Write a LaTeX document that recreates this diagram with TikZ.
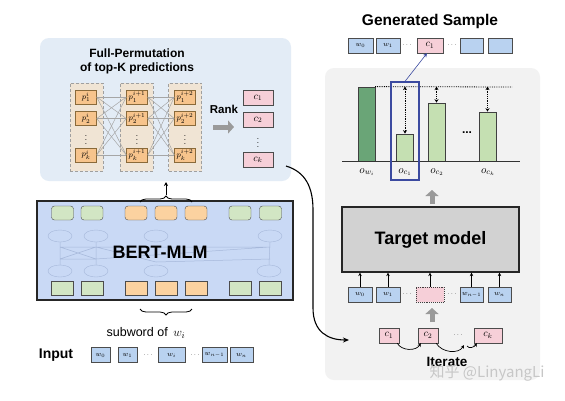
\documentclass[tikz,border=0pt]{standalone}
\usepackage{fontspec}
\setmainfont{Liberation Sans}
\newfontfamily\cjkfont{Noto Sans CJK SC}
\usetikzlibrary{arrows.meta,decorations.pathreplacing,shapes.geometric}
\definecolor{panelblue}{HTML}{E3ECF6}
\definecolor{colbg}{HTML}{F0E4D4}
\definecolor{porange}{HTML}{F7C48C}
\definecolor{pborder}{HTML}{8A6A3A}
\definecolor{cpink}{HTML}{F6CFD8}
\definecolor{wblue}{HTML}{B9D2F0}
\definecolor{bertfill}{HTML}{C9D9F5}
\definecolor{gfill}{HTML}{D2E6C4}
\definecolor{ofill}{HTML}{FBD2A0}
\definecolor{ellc}{HTML}{A6B8DA}
\definecolor{barlight}{HTML}{C5E0B2}
\definecolor{bardark}{HTML}{6AA577}
\definecolor{rpanel}{HTML}{F2F2F2}
\definecolor{tgray}{HTML}{D2D2D2}
\definecolor{selblue}{HTML}{3B4AA0}
\definecolor{bgray}{HTML}{9A9A9A}
\tikzset{
  panel/.style={rounded corners=9pt, draw=none},
  colbox/.style={draw=gray!75, densely dashed, fill=colbg, inner sep=0, minimum width=33, minimum height=88},
  pbox/.style={draw=pborder, fill=porange, minimum width=21, minimum height=14, inner sep=0, font=\fontsize{8}{8}\selectfont},
  cbox/.style={draw=black!70, fill=cpink, minimum height=15, inner sep=0, font=\fontsize{10}{10}\selectfont},
  wbox/.style={draw=black!70, fill=wblue, minimum height=15, inner sep=0, font=\fontsize{7}{7}\selectfont},
  gbox/.style={draw=black!70, fill=gfill, minimum width=22, minimum height=14, inner sep=0},
  obox/.style={draw=black!70, fill=ofill, minimum width=22, minimum height=14, inner sep=0},
  ell/.style={draw=ellc, ellipse, minimum width=24, minimum height=12, inner sep=0},
  bar/.style={draw=black!75, fill=barlight, minimum width=17, inner sep=0, anchor=south},
  plink/.style={draw=gray!70, line width=0.5pt},
  blockarrow/.style={draw=bgray, line width=5pt, -{Triangle[length=6pt,width=13pt]}},
  dotarrow/.style={densely dotted, line width=0.8pt, {Stealth[length=3.5pt,width=4pt]}-{Stealth[length=3.5pt,width=4pt]}},
  lbl/.style={inner sep=0},
}
\begin{document}
\begin{tikzpicture}[x=1pt,y=-1pt]
\useasboundingbox (0,0) rectangle (565,400);
\fill[white] (0,0) rectangle (565,400);

% ---------------- left top panel ----------------
\fill[panelblue, panel] (40,38) rectangle (291,181);
\node[lbl, font=\bfseries\fontsize{12}{14}\selectfont, align=center] (ptitle) at (137,61) {Full-Permutation\\of top-K predictions};

\node[colbox] (col1) at (86.5,127) {};
\node[colbox] (col2) at (136.5,127) {};
\node[colbox] (col3) at (185,127) {};

\node[pbox] (a1) at (86,97) {$p_1^{i}$};
\node[pbox] (a2) at (86,118.5) {$p_2^{i}$};
\node[lbl, font=\fontsize{8}{8}\selectfont] (ad) at (86,137) {$\vdots$};
\node[pbox] (ak) at (86,155) {$p_k^{i}$};
\node[pbox] (b1) at (137,97) {$p_1^{i+1}$};
\node[pbox] (b2) at (137,118.5) {$p_2^{i+1}$};
\node[lbl, font=\fontsize{8}{8}\selectfont] (bd) at (137,137) {$\vdots$};
\node[pbox] (bk) at (137,155) {$p_k^{i+1}$};
\node[pbox] (e1) at (185,97) {$p_1^{i+2}$};
\node[pbox] (e2) at (185,118.5) {$p_2^{i+2}$};
\node[lbl, font=\fontsize{8}{8}\selectfont] (ed) at (185,137) {$\vdots$};
\node[pbox] (ek) at (185,155) {$p_k^{i+2}$};
\foreach \s in {a1,a2,ak}{\foreach \t in {b1,b2,bk}{\draw[plink] (\s.east) -- (\t.west);}}
\foreach \s in {b1,b2,bk}{\foreach \t in {e1,e2,ek}{\draw[plink] (\s.east) -- (\t.west);}}

\node[lbl, font=\bfseries\fontsize{11.5}{12}\selectfont] (rank) at (224,109) {Rank};
\coordinate (ra1) at (213,127);
\coordinate (ra2) at (234,127);
\draw[blockarrow] (ra1) -- (ra2);

\node[cbox, minimum width=30] (c1) at (258,98) {$c_1$};
\node[cbox, minimum width=30] (c2) at (258,120) {$c_2$};
\node[lbl, font=\fontsize{8}{8}\selectfont] (cd) at (258,140) {$\vdots$};
\node[cbox, minimum width=30] (ck) at (258,160) {$c_k$};

% ---------------- BERT ----------------
\node[draw=black!85, line width=1.2pt, fill=bertfill, minimum width=256, minimum height=99, inner sep=0] (bert) at (165,250.5) {};
\node[gbox, rounded corners=3pt] (t1) at (62.5,213) {};
\node[gbox, rounded corners=3pt] (t2) at (92,213) {};
\node[obox, rounded corners=3pt] (t3) at (136,213) {};
\node[obox, rounded corners=3pt] (t4) at (166,213) {};
\node[obox, rounded corners=3pt] (t5) at (196,213) {};
\node[gbox, rounded corners=3pt] (t6) at (240,213) {};
\node[gbox, rounded corners=3pt] (t7) at (270.5,213) {};
\node[gbox] (u1) at (62.5,288.5) {};
\node[gbox] (u2) at (92,288.5) {};
\node[obox] (u3) at (136,288.5) {};
\node[obox] (u4) at (166,288.5) {};
\node[obox] (u5) at (196,288.5) {};
\node[gbox] (u6) at (240,288.5) {};
\node[gbox] (u7) at (270.5,288.5) {};
\node[ell] (h1) at (60,236) {};
\node[ell] (h2) at (96,236) {};
\node[ell] (h3) at (156,236) {};
\node[ell] (h4) at (270,236) {};
\node[ell] (l1) at (60,271) {};
\node[ell] (l2) at (96,271) {};
\node[ell] (l3) at (156,271) {};
\node[ell] (l4) at (269,271) {};
\draw[ellc, line width=0.5pt] (h1.south) -- (l1.north) (h2.south) -- (l2.north) (h4.south) -- (l4.north)
  (60,247) -- (96,259) (60,259) -- (96,247) (60,247) -- (270,247) (96,259) -- (270,247)
  (96,247) -- (156,262) (156,262) -- (270,259) (60,259) -- (96,259);
\node[lbl, font=\bfseries\fontsize{18}{18}\selectfont] (bertlbl) at (160,252) {BERT-MLM};

\draw[line width=0.8pt, decorate, decoration={brace, amplitude=6pt}] (140,202) -- (192,202);
\coordinate (brtip) at (166,195);
\coordinate (ptbot) at (166,182);
\draw[-{Stealth[length=4pt,width=4pt]}, line width=0.8pt] (brtip) -- (ptbot);
\draw[line width=0.8pt, decorate, decoration={brace, amplitude=6pt}] (192,309) -- (140,309);
\node[lbl, font=\fontsize{12.5}{14}\selectfont] (sub) at (146,333) {subword of \,$w_i$};

\node[lbl, font=\bfseries\fontsize{14}{14}\selectfont] (inp) at (56,355) {Input};
\node[wbox, minimum width=19] (i0) at (100.5,355) {$w_0$};
\node[wbox, minimum width=19] (i1) at (127.5,355) {$w_1$};
\node[lbl, font=\fontsize{6}{6}\selectfont] (idd1) at (148,355) {$\cdots$};
\node[wbox, minimum width=27] (ii) at (171.5,355) {$w_i$};
\node[lbl, font=\fontsize{6}{6}\selectfont] (idd2) at (195,355) {$\cdots$};
\node[wbox, minimum width=25] (in1) at (214.5,355) {$w_{n-1}$};
\node[wbox, minimum width=23] (in) at (241.5,355) {$w_n$};

% ---------------- right panel ----------------
\fill[rpanel, panel] (325,68) rectangle (540,380);
\node[lbl, font=\bfseries\fontsize{15.5}{16}\selectfont] (gtitle) at (430,21) {Generated Sample};
\node[wbox, minimum width=25] (g0) at (360.5,45.5) {$w_0$};
\node[wbox, minimum width=24] (g1) at (388,45.5) {$w_1$};
\node[lbl, font=\fontsize{6}{6}\selectfont] (gd1) at (407,45.5) {$\cdots$};
\node[cbox, minimum width=26] (gc) at (430,45.5) {$c_1$};
\node[lbl, font=\fontsize{6}{6}\selectfont] (gd2) at (452,45.5) {$\cdots$};
\node[wbox, minimum width=23] (g5) at (471.5,45.5) {};
\node[wbox, minimum width=24] (g6) at (500,45.5) {};

\node[bar, fill=bardark, minimum height=74] (bw) at (366.5,161) {};
\node[bar, minimum height=27] (bc1) at (405,161) {};
\node[bar, minimum height=58] (bc2) at (436.5,161) {};
\node[bar, minimum height=49] (bck) at (487.5,161) {};
\draw[line width=1pt, black!80] (342,161) -- (520,161);
\coordinate (dashend) at (512,87);
\draw[densely dotted, line width=0.8pt] (bw.north east) -- (dashend);
\draw[dotarrow] (bc1.north |- bw.north) -- (bc1.north);
\draw[dotarrow] (bc2.north |- bw.north) -- (bc2.north);
\draw[dotarrow] (bck.north |- bw.north) -- (bck.north);
\node[lbl, font=\bfseries\fontsize{12}{12}\selectfont] (bdots) at (467,133) {...};
\node[lbl, font=\fontsize{11}{11}\selectfont] (ow) at (367,172) {$o_{w_i}$};
\node[lbl, font=\fontsize{11}{11}\selectfont] (oc1) at (405,172) {$o_{c_1}$};
\node[lbl, font=\fontsize{11}{11}\selectfont] (oc2) at (437,172) {$o_{c_2}$};
\node[lbl, font=\fontsize{11}{11}\selectfont] (ock) at (488,172) {$o_{c_k}$};
\node[draw=selblue, line width=1.2pt, minimum width=28, minimum height=98, inner sep=0] (sel) at (405,131) {};
\draw[selblue, line width=0.6pt, -{Stealth[length=4pt,width=4pt]}] (sel.north) -- ([xshift=-3pt]gc.south);

\coordinate (ga1) at (432,204);
\coordinate (ga2) at (432,190);
\draw[blockarrow] (ga1) -- (ga2);

\node[draw=black!85, line width=1.2pt, fill=tgray, minimum width=177, minimum height=65, inner sep=0, font=\bfseries\fontsize{18}{18}\selectfont] (tm) at (430.5,239.5) {Target model};

\node[wbox, minimum width=24] (x0) at (360,294.5) {$w_0$};
\node[wbox, minimum width=24] (x1) at (388,294.5) {$w_1$};
\node[lbl, font=\fontsize{6}{6}\selectfont] (xd1) at (407,294.5) {$\cdots$};
\node[draw=black!75, densely dotted, line width=0.9pt, fill=cpink, minimum width=28, minimum height=15, inner sep=0] (xm) at (430,294.5) {};
\node[lbl, font=\fontsize{6}{6}\selectfont] (xd2) at (452,294.5) {$\cdots$};
\node[wbox, minimum width=23] (xn1) at (471.5,294.5) {$w_{n-1}$};
\node[wbox, minimum width=23] (xn) at (499.5,294.5) {$w_n$};
\foreach \b in {x0,x1,xm,xn1,xn}{\draw[line width=0.7pt, -{Stealth[length=3.5pt,width=3.5pt]}] (\b.north) -- (\b.north |- tm.south);}

\coordinate (gb1) at (432,322);
\coordinate (gb2) at (432,308);
\draw[blockarrow] (gb1) -- (gb2);

\node[cbox, minimum width=20] (r1) at (389,335.5) {$c_1$};
\node[cbox, minimum width=20] (r2) at (428,335.5) {$c_2$};
\node[lbl, font=\fontsize{6}{6}\selectfont] (rd) at (458,335.5) {$\cdots$};
\node[cbox, minimum width=28] (rk) at (488,335.5) {$c_k$};
\coordinate (rd1) at (464,345);
\coordinate (rd2) at (467,346);
\draw[line width=0.7pt, -{Stealth[length=3.5pt,width=3.5pt]}] ([xshift=-2pt]r1.south east) to[out=-60,in=-120] ([xshift=3pt]r2.south west);
\draw[line width=0.7pt, -{Stealth[length=3.5pt,width=3.5pt]}] ([xshift=-2pt]r2.south east) to[out=-60,in=-120] (rd1);
\draw[line width=0.7pt, -{Stealth[length=3.5pt,width=3.5pt]}] (rd2) to[out=-60,in=-120] ([xshift=3pt]rk.south west);
\node[lbl, font=\bfseries\fontsize{13.5}{14}\selectfont] (iter) at (447,362) {Iterate};

% long connector
\coordinate (ls) at (286,166);
\coordinate (le) at (349,340);
\draw[line width=1.1pt, -{Stealth[length=6pt,width=5pt]}] (ls) .. controls (306,172) and (313,188) .. (313,210) -- (313,308) .. controls (313,332) and (328,340) .. (le);

% watermark
\node[lbl, text=black!22, font=\cjkfont\fontsize{15}{15}\selectfont] (wm) at (487,373) {知乎 @LinyangLi};
\end{tikzpicture}
\end{document}
